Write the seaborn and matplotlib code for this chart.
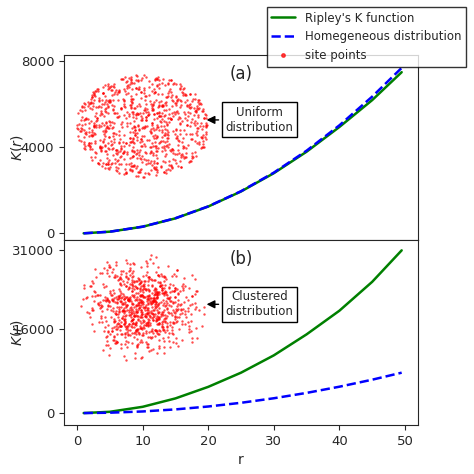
import numpy as np
import matplotlib
matplotlib.use("Agg")
import matplotlib.pyplot as plt
import seaborn as sns

sns.set_style("ticks")
plt.rcParams['font.family'] = ['DejaVu Sans']

r = [1, 5, 10, 15, 20, 25, 30, 35, 40, 45, 49.5]
k_uniform = [5, 80, 310, 700, 1250, 1950, 2800, 3800, 4950, 6200, 7500]
k_homog = [3, 78, 314, 707, 1257, 1963, 2827, 3848, 5027, 6362, 7700]
k_cluster = [10, 250, 1200, 2800, 5000, 7700, 11000, 15000, 19500, 25000, 31000]

# illustrative site point clouds (seeded)
rng = np.random.default_rng(3)
n = 900
ang = rng.uniform(0, 2*np.pi, n); rad = np.sqrt(rng.uniform(0, 1, n))
ux, uy = rad*np.cos(ang), rad*np.sin(ang)
cx, cy = rng.normal(0, 1, n), rng.normal(0, 1, n)
m = (cx**2 + cy**2) < 7
cx, cy = cx[m], cy[m]

fig = plt.figure(figsize=(4.74, 4.74), dpi=100)
ax1 = fig.add_axes([0.135, 0.494, 0.747, 0.39])
ax2 = fig.add_axes([0.135, 0.103, 0.747, 0.391], sharex=ax1)

for ax, k in [(ax1, k_uniform), (ax2, k_cluster)]:
    sns.lineplot(x=r, y=k, ax=ax, color='green', lw=1.8, legend=False)
    sns.lineplot(x=r, y=k_homog, ax=ax, color='blue', lw=1.8, linestyle='--', legend=False)
    ax.set_ylabel('$K(r)$', fontsize=10)
    ax.yaxis.set_label_coords(-0.11, 0.5)
    ax.tick_params(labelsize=9.5)

ax1.set_ylim(-300, 8300); ax1.set_yticks([0, 4000, 8000])
ax2.set_ylim(-2300, 33000); ax2.set_yticks([0, 16000, 31000])
ax1.set_xlim(-2, 52); ax2.set_xticks([0, 10, 20, 30, 40, 50])
ax2.set_xlabel('r')
plt.setp(ax1.get_xticklabels(), visible=False)
ax1.text(0.5, 0.87, '(a)', transform=ax1.transAxes, ha='center', fontsize=12)
ax2.text(0.5, 0.87, '(b)', transform=ax2.transAxes, ha='center', fontsize=12)

in1 = fig.add_axes([0.148, 0.616, 0.306, 0.236]); in1.axis('off')
in1.scatter(ux, uy, s=3, color='red', alpha=0.7, lw=0)
in2 = fig.add_axes([0.158, 0.23, 0.285, 0.243]); in2.axis('off')
in2.scatter(cx, cy, s=3, color='red', alpha=0.7, lw=0)

bbox = dict(boxstyle='square,pad=0.3', fc='white', ec='black')
fig.text(0.548, 0.747, 'Uniform\ndistribution', ha='center', va='center', fontsize=8.5, bbox=bbox)
fig.text(0.548, 0.358, 'Clustered\ndistribution', ha='center', va='center', fontsize=8.5, bbox=bbox)
for yy in (0.747, 0.358):
    fig.add_artist(matplotlib.patches.FancyArrowPatch((0.467, yy), (0.43, yy), transform=fig.transFigure,
                                                      arrowstyle='-|>', mutation_scale=12, color='black'))

from matplotlib.lines import Line2D
handles = [Line2D([], [], color='green', lw=1.8), Line2D([], [], color='blue', lw=1.8, ls='--'),
           Line2D([], [], color='red', marker='.', ls='', ms=5, alpha=0.7)]
fig.legend(handles, ["Ripley's K function", 'Homegeneous distribution', 'site points'],
           loc='upper right', bbox_to_anchor=(0.995, 0.998), fontsize=8.5, frameon=True, edgecolor='black', fancybox=False)
fig.savefig('out.png', dpi=100)
